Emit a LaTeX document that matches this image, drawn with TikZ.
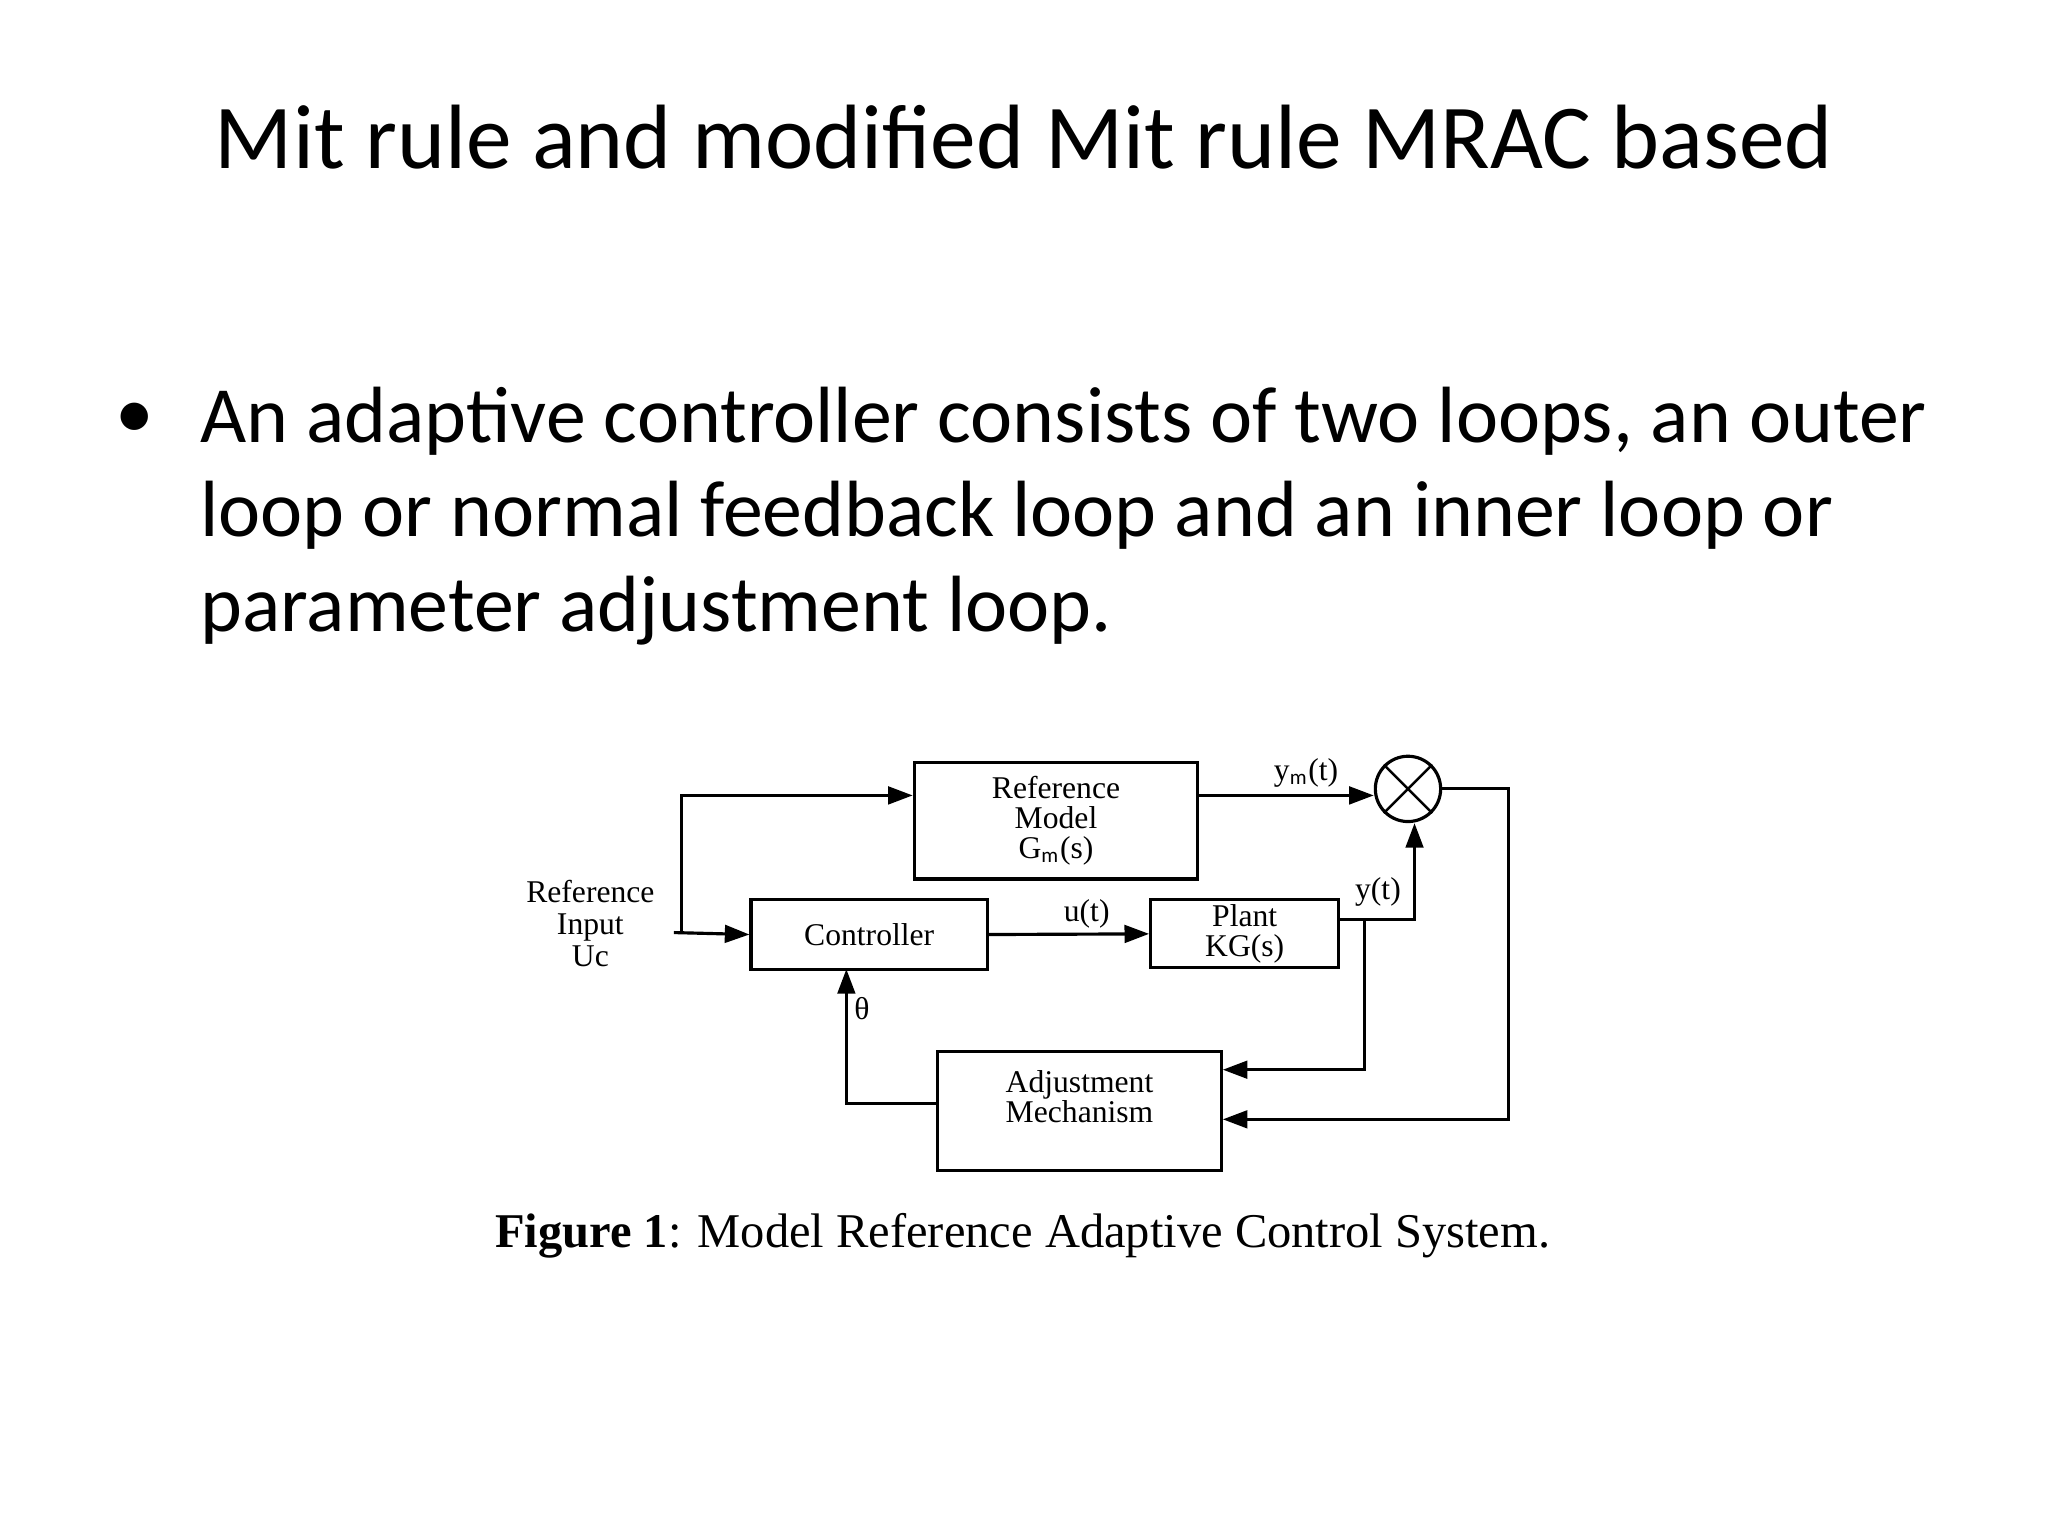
\documentclass[tikz,border=0pt]{standalone}
\usepackage{fontspec}
\setmainfont{Carlito}
\newfontfamily\tnr{Liberation Serif}
\usetikzlibrary{arrows.meta}
\begin{document}
\begin{tikzpicture}[x=0.01306cm,y=-0.01306cm,
  blk/.style={draw,line width=0.9pt,inner sep=0pt,font=\tnr\fontsize{9}{8.5}\selectfont,align=center},
  ln/.style={line width=0.9pt},
  ar/.style={ln,-{Triangle[length=7pt,width=5pt]}},
  lb/.style={font=\tnr\fontsize{9}{9}\selectfont,inner sep=1pt}]
\useasboundingbox (0,0) rectangle (1568,1176);
\node[font=\fontsize{26}{31}\selectfont] (title) at (784,105) {Mit rule and modified Mit rule MRAC based};
\node[font=\fontsize{22}{27}\selectfont] (bul) at (103,322) {•};
\node[anchor=north west,align=left,inner sep=0pt,font=\fontsize{22.7}{26.8}\selectfont] (txt) at (153,296) {An adaptive controller consists of two loops, an outer\\loop or normal feedback loop and an inner loop or\\parameter adjustment loop.};
% blocks
\node[blk,minimum width=217*0.01306cm,minimum height=89*0.01306cm] (rm) at (808.5,628.5) {Reference\\Model\\G$_\mathrm{m}$(s)};
\node[blk,minimum width=181*0.01306cm,minimum height=53*0.01306cm] (ct) at (665.5,715.5) {Controller};
\node[blk,minimum width=144*0.01306cm,minimum height=52*0.01306cm] (pl) at (953,715) {Plant\\KG(s)};
\node[blk,minimum width=217*0.01306cm,minimum height=91*0.01306cm,text depth=8pt] (ad) at (826.5,850.5) {Adjustment\\Mechanism};
\node[draw,circle,line width=0.9pt,minimum size=50*0.01306cm,inner sep=0pt] (sum) at (1078,604) {};
\draw[line width=0.7pt] (sum.45)--(sum.225) (sum.135)--(sum.315);
\node[lb,align=center] (ri) at (452,707) {Reference\\Input\\Uc};
\coordinate (in) at (516,714);
\coordinate (br) at (522,714);
\draw[ar] (in)--(ct.west);
\draw[ar] (br)--(522,609)--(rm.west|-522,609);
\draw[ar] (rm.east|-0,609)--(sum.west|-0,609);
\node[lb] (ym) at (1000,592) {y$_\mathrm{m}$(t)};
\draw[ar] (ct.east)--(pl.west);
\node[lb] (ut) at (832,700) {u(t)};
\draw[ar] (pl.east|-0,704)--(1083,704)--(sum.south-|1083,0);
\node[lb] (yt) at (1055,683) {y(t)};
\draw[ar] (1045,704)--(1045,819)--(ad.east|-0,819);
\draw[ar] (sum.east)--(1155,604)--(1155,857)--(ad.east|-0,857);
\draw[ar] (ad.west|-0,845)--(648,845)--(648,742);
\node[lb] (th) at (660,772) {θ};
\node (cap) at (783,946) {\tnr\fontsize{13.8}{16}\selectfont\textbf{Figure 1}: Model Reference Adaptive Control System.};
\end{tikzpicture}
\end{document}
